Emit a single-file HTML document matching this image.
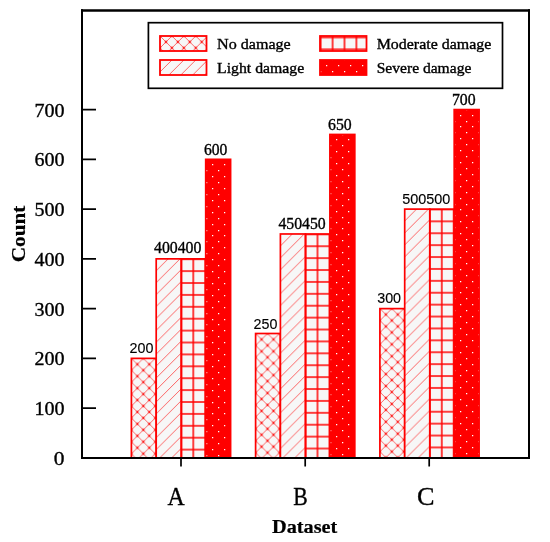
<!DOCTYPE html>
<html><head><meta charset="utf-8">
<style>
html,body{margin:0;padding:0;background:#fff;}
body{width:550px;height:542px;overflow:hidden;}
svg{display:block;}
text{fill:#000;}
.serif{font-family:"Liberation Serif",serif;}
.sans{font-family:"Liberation Sans",sans-serif;}
</style></head><body>
<svg width="550" height="542" viewBox="0 0 550 542">
<defs>
<pattern id="p1" patternUnits="userSpaceOnUse" x="131.40" y="358.38" width="11.92" height="11.92"><rect x="-1" y="-1" width="13.92" height="13.92" fill="#f7f7f7"/><path d="M-1,-1L12.92,12.92M-1,12.92L12.92,-1" stroke="#ff0000" stroke-width="0.8" fill="none" stroke-opacity="0.75"/><circle cx="0.00" cy="0.00" r="1.4" fill="#ff0000" fill-opacity="0.65"/><circle cx="11.92" cy="0.00" r="1.4" fill="#ff0000" fill-opacity="0.65"/><circle cx="0.00" cy="11.92" r="1.4" fill="#ff0000" fill-opacity="0.65"/><circle cx="11.92" cy="11.92" r="1.4" fill="#ff0000" fill-opacity="0.65"/><circle cx="5.96" cy="5.96" r="1.4" fill="#ff0000" fill-opacity="0.65"/></pattern>
<pattern id="p2" patternUnits="userSpaceOnUse" x="156.20" y="258.86" width="11.92" height="11.92"><rect x="-1" y="-1" width="13.92" height="13.92" fill="#f7f7f7"/><path d="M-1,12.92L12.92,-1M-1,1L1,-1M10.92,12.92L12.92,10.92" stroke="#ff0000" stroke-width="0.8" fill="none" stroke-opacity="0.75"/></pattern>
<pattern id="p3" patternUnits="userSpaceOnUse" x="181.40" y="259.21" width="11.9" height="11.9"><rect x="-1" y="-1" width="13.92" height="13.92" fill="#f7f7f7"/><path d="M0,0H11.9M0,11.9H11.9M0,0V11.9M11.9,0V11.9" stroke="#ff0000" stroke-width="1.5" fill="none"/></pattern>
<pattern id="p4" patternUnits="userSpaceOnUse" x="255.60" y="333.50" width="11.92" height="11.92"><rect x="-1" y="-1" width="13.92" height="13.92" fill="#f7f7f7"/><path d="M-1,-1L12.92,12.92M-1,12.92L12.92,-1" stroke="#ff0000" stroke-width="0.8" fill="none" stroke-opacity="0.75"/><circle cx="0.00" cy="0.00" r="1.4" fill="#ff0000" fill-opacity="0.65"/><circle cx="11.92" cy="0.00" r="1.4" fill="#ff0000" fill-opacity="0.65"/><circle cx="0.00" cy="11.92" r="1.4" fill="#ff0000" fill-opacity="0.65"/><circle cx="11.92" cy="11.92" r="1.4" fill="#ff0000" fill-opacity="0.65"/><circle cx="5.96" cy="5.96" r="1.4" fill="#ff0000" fill-opacity="0.65"/></pattern>
<pattern id="p5" patternUnits="userSpaceOnUse" x="280.40" y="233.98" width="11.92" height="11.92"><rect x="-1" y="-1" width="13.92" height="13.92" fill="#f7f7f7"/><path d="M-1,12.92L12.92,-1M-1,1L1,-1M10.92,12.92L12.92,10.92" stroke="#ff0000" stroke-width="0.8" fill="none" stroke-opacity="0.75"/></pattern>
<pattern id="p6" patternUnits="userSpaceOnUse" x="305.60" y="234.33" width="11.9" height="11.9"><rect x="-1" y="-1" width="13.92" height="13.92" fill="#f7f7f7"/><path d="M0,0H11.9M0,11.9H11.9M0,0V11.9M11.9,0V11.9" stroke="#ff0000" stroke-width="1.5" fill="none"/></pattern>
<pattern id="p7" patternUnits="userSpaceOnUse" x="379.90" y="308.62" width="11.92" height="11.92"><rect x="-1" y="-1" width="13.92" height="13.92" fill="#f7f7f7"/><path d="M-1,-1L12.92,12.92M-1,12.92L12.92,-1" stroke="#ff0000" stroke-width="0.8" fill="none" stroke-opacity="0.75"/><circle cx="0.00" cy="0.00" r="1.4" fill="#ff0000" fill-opacity="0.65"/><circle cx="11.92" cy="0.00" r="1.4" fill="#ff0000" fill-opacity="0.65"/><circle cx="0.00" cy="11.92" r="1.4" fill="#ff0000" fill-opacity="0.65"/><circle cx="11.92" cy="11.92" r="1.4" fill="#ff0000" fill-opacity="0.65"/><circle cx="5.96" cy="5.96" r="1.4" fill="#ff0000" fill-opacity="0.65"/></pattern>
<pattern id="p8" patternUnits="userSpaceOnUse" x="404.70" y="209.10" width="11.92" height="11.92"><rect x="-1" y="-1" width="13.92" height="13.92" fill="#f7f7f7"/><path d="M-1,12.92L12.92,-1M-1,1L1,-1M10.92,12.92L12.92,10.92" stroke="#ff0000" stroke-width="0.8" fill="none" stroke-opacity="0.75"/></pattern>
<pattern id="p9" patternUnits="userSpaceOnUse" x="429.90" y="209.45" width="11.9" height="11.9"><rect x="-1" y="-1" width="13.92" height="13.92" fill="#f7f7f7"/><path d="M0,0H11.9M0,11.9H11.9M0,0V11.9M11.9,0V11.9" stroke="#ff0000" stroke-width="1.5" fill="none"/></pattern>
<pattern id="p10" patternUnits="userSpaceOnUse" x="160.00" y="36.00" width="11.92" height="11.92"><rect x="-1" y="-1" width="13.92" height="13.92" fill="#f7f7f7"/><path d="M-1,-1L12.92,12.92M-1,12.92L12.92,-1" stroke="#ff0000" stroke-width="0.8" fill="none" stroke-opacity="0.75"/><circle cx="0.00" cy="0.00" r="1.4" fill="#ff0000" fill-opacity="0.65"/><circle cx="11.92" cy="0.00" r="1.4" fill="#ff0000" fill-opacity="0.65"/><circle cx="0.00" cy="11.92" r="1.4" fill="#ff0000" fill-opacity="0.65"/><circle cx="11.92" cy="11.92" r="1.4" fill="#ff0000" fill-opacity="0.65"/><circle cx="5.96" cy="5.96" r="1.4" fill="#ff0000" fill-opacity="0.65"/></pattern>
<pattern id="p11" patternUnits="userSpaceOnUse" x="160.00" y="60.00" width="11.92" height="11.92"><rect x="-1" y="-1" width="13.92" height="13.92" fill="#f7f7f7"/><path d="M-1,12.92L12.92,-1M-1,1L1,-1M10.92,12.92L12.92,10.92" stroke="#ff0000" stroke-width="0.8" fill="none" stroke-opacity="0.75"/></pattern>
<pattern id="p12" patternUnits="userSpaceOnUse" x="320.70" y="37.45" width="11.9" height="11.9"><rect x="-1" y="-1" width="13.92" height="13.92" fill="#f7f7f7"/><path d="M0,0H11.9M0,11.9H11.9M0,0V11.9M11.9,0V11.9" stroke="#ff0000" stroke-width="1.5" fill="none"/></pattern>
</defs>
<rect width="550" height="542" fill="#fff"/>
<rect x="131.40" y="358.38" width="24.80" height="99.52" fill="url(#p1)" stroke="#ff0000" stroke-width="1.7"/>
<rect x="156.20" y="258.86" width="25.10" height="199.04" fill="url(#p2)" stroke="#ff0000" stroke-width="1.7"/>
<rect x="181.30" y="258.86" width="24.40" height="199.04" fill="url(#p3)" stroke="#ff0000" stroke-width="1.7"/>
<rect x="205.70" y="159.34" width="24.90" height="298.56" fill="#ff0000"/>
<g fill="#fff"><rect x="212" y="164" width="1.25" height="1.25"/><rect x="224" y="164" width="1.25" height="1.25"/><rect x="212" y="176" width="1.25" height="1.25"/><rect x="224" y="176" width="1.25" height="1.25"/><rect x="212" y="188" width="1.25" height="1.25"/><rect x="224" y="188" width="1.25" height="1.25"/><rect x="212" y="200" width="1.25" height="1.25"/><rect x="224" y="200" width="1.25" height="1.25"/><rect x="212" y="212" width="1.25" height="1.25"/><rect x="224" y="212" width="1.25" height="1.25"/><rect x="212" y="224" width="1.25" height="1.25"/><rect x="224" y="224" width="1.25" height="1.25"/><rect x="212" y="235" width="1.25" height="1.25"/><rect x="224" y="235" width="1.25" height="1.25"/><rect x="212" y="247" width="1.25" height="1.25"/><rect x="224" y="247" width="1.25" height="1.25"/><rect x="212" y="259" width="1.25" height="1.25"/><rect x="224" y="259" width="1.25" height="1.25"/><rect x="212" y="271" width="1.25" height="1.25"/><rect x="224" y="271" width="1.25" height="1.25"/><rect x="212" y="283" width="1.25" height="1.25"/><rect x="224" y="283" width="1.25" height="1.25"/><rect x="212" y="295" width="1.25" height="1.25"/><rect x="224" y="295" width="1.25" height="1.25"/><rect x="212" y="307" width="1.25" height="1.25"/><rect x="224" y="307" width="1.25" height="1.25"/><rect x="212" y="319" width="1.25" height="1.25"/><rect x="224" y="319" width="1.25" height="1.25"/><rect x="212" y="330" width="1.25" height="1.25"/><rect x="224" y="330" width="1.25" height="1.25"/><rect x="212" y="342" width="1.25" height="1.25"/><rect x="224" y="342" width="1.25" height="1.25"/><rect x="212" y="354" width="1.25" height="1.25"/><rect x="224" y="354" width="1.25" height="1.25"/><rect x="212" y="366" width="1.25" height="1.25"/><rect x="224" y="366" width="1.25" height="1.25"/><rect x="212" y="378" width="1.25" height="1.25"/><rect x="224" y="378" width="1.25" height="1.25"/><rect x="212" y="390" width="1.25" height="1.25"/><rect x="224" y="390" width="1.25" height="1.25"/><rect x="212" y="402" width="1.25" height="1.25"/><rect x="224" y="402" width="1.25" height="1.25"/><rect x="212" y="413" width="1.25" height="1.25"/><rect x="224" y="413" width="1.25" height="1.25"/><rect x="212" y="425" width="1.25" height="1.25"/><rect x="224" y="425" width="1.25" height="1.25"/><rect x="212" y="437" width="1.25" height="1.25"/><rect x="224" y="437" width="1.25" height="1.25"/><rect x="212" y="449" width="1.25" height="1.25"/><rect x="224" y="449" width="1.25" height="1.25"/><rect x="206" y="170" width="1.25" height="1.25"/><rect x="218" y="170" width="1.25" height="1.25"/><rect x="230" y="170" width="1.25" height="1.25"/><rect x="206" y="182" width="1.25" height="1.25"/><rect x="218" y="182" width="1.25" height="1.25"/><rect x="230" y="182" width="1.25" height="1.25"/><rect x="206" y="194" width="1.25" height="1.25"/><rect x="218" y="194" width="1.25" height="1.25"/><rect x="230" y="194" width="1.25" height="1.25"/><rect x="206" y="206" width="1.25" height="1.25"/><rect x="218" y="206" width="1.25" height="1.25"/><rect x="230" y="206" width="1.25" height="1.25"/><rect x="206" y="218" width="1.25" height="1.25"/><rect x="218" y="218" width="1.25" height="1.25"/><rect x="230" y="218" width="1.25" height="1.25"/><rect x="206" y="230" width="1.25" height="1.25"/><rect x="218" y="230" width="1.25" height="1.25"/><rect x="230" y="230" width="1.25" height="1.25"/><rect x="206" y="241" width="1.25" height="1.25"/><rect x="218" y="241" width="1.25" height="1.25"/><rect x="230" y="241" width="1.25" height="1.25"/><rect x="206" y="253" width="1.25" height="1.25"/><rect x="218" y="253" width="1.25" height="1.25"/><rect x="230" y="253" width="1.25" height="1.25"/><rect x="206" y="265" width="1.25" height="1.25"/><rect x="218" y="265" width="1.25" height="1.25"/><rect x="230" y="265" width="1.25" height="1.25"/><rect x="206" y="277" width="1.25" height="1.25"/><rect x="218" y="277" width="1.25" height="1.25"/><rect x="230" y="277" width="1.25" height="1.25"/><rect x="206" y="289" width="1.25" height="1.25"/><rect x="218" y="289" width="1.25" height="1.25"/><rect x="230" y="289" width="1.25" height="1.25"/><rect x="206" y="301" width="1.25" height="1.25"/><rect x="218" y="301" width="1.25" height="1.25"/><rect x="230" y="301" width="1.25" height="1.25"/><rect x="206" y="313" width="1.25" height="1.25"/><rect x="218" y="313" width="1.25" height="1.25"/><rect x="230" y="313" width="1.25" height="1.25"/><rect x="206" y="324" width="1.25" height="1.25"/><rect x="218" y="324" width="1.25" height="1.25"/><rect x="230" y="324" width="1.25" height="1.25"/><rect x="206" y="336" width="1.25" height="1.25"/><rect x="218" y="336" width="1.25" height="1.25"/><rect x="230" y="336" width="1.25" height="1.25"/><rect x="206" y="348" width="1.25" height="1.25"/><rect x="218" y="348" width="1.25" height="1.25"/><rect x="230" y="348" width="1.25" height="1.25"/><rect x="206" y="360" width="1.25" height="1.25"/><rect x="218" y="360" width="1.25" height="1.25"/><rect x="230" y="360" width="1.25" height="1.25"/><rect x="206" y="372" width="1.25" height="1.25"/><rect x="218" y="372" width="1.25" height="1.25"/><rect x="230" y="372" width="1.25" height="1.25"/><rect x="206" y="384" width="1.25" height="1.25"/><rect x="218" y="384" width="1.25" height="1.25"/><rect x="230" y="384" width="1.25" height="1.25"/><rect x="206" y="396" width="1.25" height="1.25"/><rect x="218" y="396" width="1.25" height="1.25"/><rect x="230" y="396" width="1.25" height="1.25"/><rect x="206" y="407" width="1.25" height="1.25"/><rect x="218" y="407" width="1.25" height="1.25"/><rect x="230" y="407" width="1.25" height="1.25"/><rect x="206" y="419" width="1.25" height="1.25"/><rect x="218" y="419" width="1.25" height="1.25"/><rect x="230" y="419" width="1.25" height="1.25"/><rect x="206" y="431" width="1.25" height="1.25"/><rect x="218" y="431" width="1.25" height="1.25"/><rect x="230" y="431" width="1.25" height="1.25"/><rect x="206" y="443" width="1.25" height="1.25"/><rect x="218" y="443" width="1.25" height="1.25"/><rect x="230" y="443" width="1.25" height="1.25"/><rect x="206" y="455" width="1.25" height="1.25"/><rect x="218" y="455" width="1.25" height="1.25"/><rect x="230" y="455" width="1.25" height="1.25"/></g>
<rect x="205.70" y="159.34" width="24.90" height="298.56" fill="none" stroke="#ff0000" stroke-width="1.7"/>
<rect x="255.60" y="333.50" width="24.80" height="124.40" fill="url(#p4)" stroke="#ff0000" stroke-width="1.7"/>
<rect x="280.40" y="233.98" width="25.10" height="223.92" fill="url(#p5)" stroke="#ff0000" stroke-width="1.7"/>
<rect x="305.50" y="233.98" width="24.40" height="223.92" fill="url(#p6)" stroke="#ff0000" stroke-width="1.7"/>
<rect x="329.90" y="134.46" width="24.90" height="323.44" fill="#ff0000"/>
<g fill="#fff"><rect x="336" y="139" width="1.25" height="1.25"/><rect x="348" y="139" width="1.25" height="1.25"/><rect x="336" y="151" width="1.25" height="1.25"/><rect x="348" y="151" width="1.25" height="1.25"/><rect x="336" y="163" width="1.25" height="1.25"/><rect x="348" y="163" width="1.25" height="1.25"/><rect x="336" y="175" width="1.25" height="1.25"/><rect x="348" y="175" width="1.25" height="1.25"/><rect x="336" y="187" width="1.25" height="1.25"/><rect x="348" y="187" width="1.25" height="1.25"/><rect x="336" y="199" width="1.25" height="1.25"/><rect x="348" y="199" width="1.25" height="1.25"/><rect x="336" y="211" width="1.25" height="1.25"/><rect x="348" y="211" width="1.25" height="1.25"/><rect x="336" y="222" width="1.25" height="1.25"/><rect x="348" y="222" width="1.25" height="1.25"/><rect x="336" y="234" width="1.25" height="1.25"/><rect x="348" y="234" width="1.25" height="1.25"/><rect x="336" y="246" width="1.25" height="1.25"/><rect x="348" y="246" width="1.25" height="1.25"/><rect x="336" y="258" width="1.25" height="1.25"/><rect x="348" y="258" width="1.25" height="1.25"/><rect x="336" y="270" width="1.25" height="1.25"/><rect x="348" y="270" width="1.25" height="1.25"/><rect x="336" y="282" width="1.25" height="1.25"/><rect x="348" y="282" width="1.25" height="1.25"/><rect x="336" y="294" width="1.25" height="1.25"/><rect x="348" y="294" width="1.25" height="1.25"/><rect x="336" y="306" width="1.25" height="1.25"/><rect x="348" y="306" width="1.25" height="1.25"/><rect x="336" y="317" width="1.25" height="1.25"/><rect x="348" y="317" width="1.25" height="1.25"/><rect x="336" y="329" width="1.25" height="1.25"/><rect x="348" y="329" width="1.25" height="1.25"/><rect x="336" y="341" width="1.25" height="1.25"/><rect x="348" y="341" width="1.25" height="1.25"/><rect x="336" y="353" width="1.25" height="1.25"/><rect x="348" y="353" width="1.25" height="1.25"/><rect x="336" y="365" width="1.25" height="1.25"/><rect x="348" y="365" width="1.25" height="1.25"/><rect x="336" y="377" width="1.25" height="1.25"/><rect x="348" y="377" width="1.25" height="1.25"/><rect x="336" y="389" width="1.25" height="1.25"/><rect x="348" y="389" width="1.25" height="1.25"/><rect x="336" y="400" width="1.25" height="1.25"/><rect x="348" y="400" width="1.25" height="1.25"/><rect x="336" y="412" width="1.25" height="1.25"/><rect x="348" y="412" width="1.25" height="1.25"/><rect x="336" y="424" width="1.25" height="1.25"/><rect x="348" y="424" width="1.25" height="1.25"/><rect x="336" y="436" width="1.25" height="1.25"/><rect x="348" y="436" width="1.25" height="1.25"/><rect x="336" y="448" width="1.25" height="1.25"/><rect x="348" y="448" width="1.25" height="1.25"/><rect x="330" y="134" width="1.25" height="1.25"/><rect x="342" y="134" width="1.25" height="1.25"/><rect x="354" y="134" width="1.25" height="1.25"/><rect x="330" y="145" width="1.25" height="1.25"/><rect x="342" y="145" width="1.25" height="1.25"/><rect x="354" y="145" width="1.25" height="1.25"/><rect x="330" y="157" width="1.25" height="1.25"/><rect x="342" y="157" width="1.25" height="1.25"/><rect x="354" y="157" width="1.25" height="1.25"/><rect x="330" y="169" width="1.25" height="1.25"/><rect x="342" y="169" width="1.25" height="1.25"/><rect x="354" y="169" width="1.25" height="1.25"/><rect x="330" y="181" width="1.25" height="1.25"/><rect x="342" y="181" width="1.25" height="1.25"/><rect x="354" y="181" width="1.25" height="1.25"/><rect x="330" y="193" width="1.25" height="1.25"/><rect x="342" y="193" width="1.25" height="1.25"/><rect x="354" y="193" width="1.25" height="1.25"/><rect x="330" y="205" width="1.25" height="1.25"/><rect x="342" y="205" width="1.25" height="1.25"/><rect x="354" y="205" width="1.25" height="1.25"/><rect x="330" y="217" width="1.25" height="1.25"/><rect x="342" y="217" width="1.25" height="1.25"/><rect x="354" y="217" width="1.25" height="1.25"/><rect x="330" y="228" width="1.25" height="1.25"/><rect x="342" y="228" width="1.25" height="1.25"/><rect x="354" y="228" width="1.25" height="1.25"/><rect x="330" y="240" width="1.25" height="1.25"/><rect x="342" y="240" width="1.25" height="1.25"/><rect x="354" y="240" width="1.25" height="1.25"/><rect x="330" y="252" width="1.25" height="1.25"/><rect x="342" y="252" width="1.25" height="1.25"/><rect x="354" y="252" width="1.25" height="1.25"/><rect x="330" y="264" width="1.25" height="1.25"/><rect x="342" y="264" width="1.25" height="1.25"/><rect x="354" y="264" width="1.25" height="1.25"/><rect x="330" y="276" width="1.25" height="1.25"/><rect x="342" y="276" width="1.25" height="1.25"/><rect x="354" y="276" width="1.25" height="1.25"/><rect x="330" y="288" width="1.25" height="1.25"/><rect x="342" y="288" width="1.25" height="1.25"/><rect x="354" y="288" width="1.25" height="1.25"/><rect x="330" y="300" width="1.25" height="1.25"/><rect x="342" y="300" width="1.25" height="1.25"/><rect x="354" y="300" width="1.25" height="1.25"/><rect x="330" y="311" width="1.25" height="1.25"/><rect x="342" y="311" width="1.25" height="1.25"/><rect x="354" y="311" width="1.25" height="1.25"/><rect x="330" y="323" width="1.25" height="1.25"/><rect x="342" y="323" width="1.25" height="1.25"/><rect x="354" y="323" width="1.25" height="1.25"/><rect x="330" y="335" width="1.25" height="1.25"/><rect x="342" y="335" width="1.25" height="1.25"/><rect x="354" y="335" width="1.25" height="1.25"/><rect x="330" y="347" width="1.25" height="1.25"/><rect x="342" y="347" width="1.25" height="1.25"/><rect x="354" y="347" width="1.25" height="1.25"/><rect x="330" y="359" width="1.25" height="1.25"/><rect x="342" y="359" width="1.25" height="1.25"/><rect x="354" y="359" width="1.25" height="1.25"/><rect x="330" y="371" width="1.25" height="1.25"/><rect x="342" y="371" width="1.25" height="1.25"/><rect x="354" y="371" width="1.25" height="1.25"/><rect x="330" y="383" width="1.25" height="1.25"/><rect x="342" y="383" width="1.25" height="1.25"/><rect x="354" y="383" width="1.25" height="1.25"/><rect x="330" y="394" width="1.25" height="1.25"/><rect x="342" y="394" width="1.25" height="1.25"/><rect x="354" y="394" width="1.25" height="1.25"/><rect x="330" y="406" width="1.25" height="1.25"/><rect x="342" y="406" width="1.25" height="1.25"/><rect x="354" y="406" width="1.25" height="1.25"/><rect x="330" y="418" width="1.25" height="1.25"/><rect x="342" y="418" width="1.25" height="1.25"/><rect x="354" y="418" width="1.25" height="1.25"/><rect x="330" y="430" width="1.25" height="1.25"/><rect x="342" y="430" width="1.25" height="1.25"/><rect x="354" y="430" width="1.25" height="1.25"/><rect x="330" y="442" width="1.25" height="1.25"/><rect x="342" y="442" width="1.25" height="1.25"/><rect x="354" y="442" width="1.25" height="1.25"/><rect x="330" y="454" width="1.25" height="1.25"/><rect x="342" y="454" width="1.25" height="1.25"/><rect x="354" y="454" width="1.25" height="1.25"/></g>
<rect x="329.90" y="134.46" width="24.90" height="323.44" fill="none" stroke="#ff0000" stroke-width="1.7"/>
<rect x="379.90" y="308.62" width="24.80" height="149.28" fill="url(#p7)" stroke="#ff0000" stroke-width="1.7"/>
<rect x="404.70" y="209.10" width="25.10" height="248.80" fill="url(#p8)" stroke="#ff0000" stroke-width="1.7"/>
<rect x="429.80" y="209.10" width="24.40" height="248.80" fill="url(#p9)" stroke="#ff0000" stroke-width="1.7"/>
<rect x="454.20" y="109.58" width="24.90" height="348.32" fill="#ff0000"/>
<g fill="#fff"><rect x="460" y="115" width="1.25" height="1.25"/><rect x="472" y="115" width="1.25" height="1.25"/><rect x="460" y="126" width="1.25" height="1.25"/><rect x="472" y="126" width="1.25" height="1.25"/><rect x="460" y="138" width="1.25" height="1.25"/><rect x="472" y="138" width="1.25" height="1.25"/><rect x="460" y="150" width="1.25" height="1.25"/><rect x="472" y="150" width="1.25" height="1.25"/><rect x="460" y="162" width="1.25" height="1.25"/><rect x="472" y="162" width="1.25" height="1.25"/><rect x="460" y="174" width="1.25" height="1.25"/><rect x="472" y="174" width="1.25" height="1.25"/><rect x="460" y="186" width="1.25" height="1.25"/><rect x="472" y="186" width="1.25" height="1.25"/><rect x="460" y="198" width="1.25" height="1.25"/><rect x="472" y="198" width="1.25" height="1.25"/><rect x="460" y="209" width="1.25" height="1.25"/><rect x="472" y="209" width="1.25" height="1.25"/><rect x="460" y="221" width="1.25" height="1.25"/><rect x="472" y="221" width="1.25" height="1.25"/><rect x="460" y="233" width="1.25" height="1.25"/><rect x="472" y="233" width="1.25" height="1.25"/><rect x="460" y="245" width="1.25" height="1.25"/><rect x="472" y="245" width="1.25" height="1.25"/><rect x="460" y="257" width="1.25" height="1.25"/><rect x="472" y="257" width="1.25" height="1.25"/><rect x="460" y="269" width="1.25" height="1.25"/><rect x="472" y="269" width="1.25" height="1.25"/><rect x="460" y="281" width="1.25" height="1.25"/><rect x="472" y="281" width="1.25" height="1.25"/><rect x="460" y="292" width="1.25" height="1.25"/><rect x="472" y="292" width="1.25" height="1.25"/><rect x="460" y="304" width="1.25" height="1.25"/><rect x="472" y="304" width="1.25" height="1.25"/><rect x="460" y="316" width="1.25" height="1.25"/><rect x="472" y="316" width="1.25" height="1.25"/><rect x="460" y="328" width="1.25" height="1.25"/><rect x="472" y="328" width="1.25" height="1.25"/><rect x="460" y="340" width="1.25" height="1.25"/><rect x="472" y="340" width="1.25" height="1.25"/><rect x="460" y="352" width="1.25" height="1.25"/><rect x="472" y="352" width="1.25" height="1.25"/><rect x="460" y="364" width="1.25" height="1.25"/><rect x="472" y="364" width="1.25" height="1.25"/><rect x="460" y="375" width="1.25" height="1.25"/><rect x="472" y="375" width="1.25" height="1.25"/><rect x="460" y="387" width="1.25" height="1.25"/><rect x="472" y="387" width="1.25" height="1.25"/><rect x="460" y="399" width="1.25" height="1.25"/><rect x="472" y="399" width="1.25" height="1.25"/><rect x="460" y="411" width="1.25" height="1.25"/><rect x="472" y="411" width="1.25" height="1.25"/><rect x="460" y="423" width="1.25" height="1.25"/><rect x="472" y="423" width="1.25" height="1.25"/><rect x="460" y="435" width="1.25" height="1.25"/><rect x="472" y="435" width="1.25" height="1.25"/><rect x="460" y="447" width="1.25" height="1.25"/><rect x="472" y="447" width="1.25" height="1.25"/><rect x="454" y="109" width="1.25" height="1.25"/><rect x="466" y="109" width="1.25" height="1.25"/><rect x="478" y="109" width="1.25" height="1.25"/><rect x="454" y="121" width="1.25" height="1.25"/><rect x="466" y="121" width="1.25" height="1.25"/><rect x="478" y="121" width="1.25" height="1.25"/><rect x="454" y="132" width="1.25" height="1.25"/><rect x="466" y="132" width="1.25" height="1.25"/><rect x="478" y="132" width="1.25" height="1.25"/><rect x="454" y="144" width="1.25" height="1.25"/><rect x="466" y="144" width="1.25" height="1.25"/><rect x="478" y="144" width="1.25" height="1.25"/><rect x="454" y="156" width="1.25" height="1.25"/><rect x="466" y="156" width="1.25" height="1.25"/><rect x="478" y="156" width="1.25" height="1.25"/><rect x="454" y="168" width="1.25" height="1.25"/><rect x="466" y="168" width="1.25" height="1.25"/><rect x="478" y="168" width="1.25" height="1.25"/><rect x="454" y="180" width="1.25" height="1.25"/><rect x="466" y="180" width="1.25" height="1.25"/><rect x="478" y="180" width="1.25" height="1.25"/><rect x="454" y="192" width="1.25" height="1.25"/><rect x="466" y="192" width="1.25" height="1.25"/><rect x="478" y="192" width="1.25" height="1.25"/><rect x="454" y="204" width="1.25" height="1.25"/><rect x="466" y="204" width="1.25" height="1.25"/><rect x="478" y="204" width="1.25" height="1.25"/><rect x="454" y="215" width="1.25" height="1.25"/><rect x="466" y="215" width="1.25" height="1.25"/><rect x="478" y="215" width="1.25" height="1.25"/><rect x="454" y="227" width="1.25" height="1.25"/><rect x="466" y="227" width="1.25" height="1.25"/><rect x="478" y="227" width="1.25" height="1.25"/><rect x="454" y="239" width="1.25" height="1.25"/><rect x="466" y="239" width="1.25" height="1.25"/><rect x="478" y="239" width="1.25" height="1.25"/><rect x="454" y="251" width="1.25" height="1.25"/><rect x="466" y="251" width="1.25" height="1.25"/><rect x="478" y="251" width="1.25" height="1.25"/><rect x="454" y="263" width="1.25" height="1.25"/><rect x="466" y="263" width="1.25" height="1.25"/><rect x="478" y="263" width="1.25" height="1.25"/><rect x="454" y="275" width="1.25" height="1.25"/><rect x="466" y="275" width="1.25" height="1.25"/><rect x="478" y="275" width="1.25" height="1.25"/><rect x="454" y="287" width="1.25" height="1.25"/><rect x="466" y="287" width="1.25" height="1.25"/><rect x="478" y="287" width="1.25" height="1.25"/><rect x="454" y="298" width="1.25" height="1.25"/><rect x="466" y="298" width="1.25" height="1.25"/><rect x="478" y="298" width="1.25" height="1.25"/><rect x="454" y="310" width="1.25" height="1.25"/><rect x="466" y="310" width="1.25" height="1.25"/><rect x="478" y="310" width="1.25" height="1.25"/><rect x="454" y="322" width="1.25" height="1.25"/><rect x="466" y="322" width="1.25" height="1.25"/><rect x="478" y="322" width="1.25" height="1.25"/><rect x="454" y="334" width="1.25" height="1.25"/><rect x="466" y="334" width="1.25" height="1.25"/><rect x="478" y="334" width="1.25" height="1.25"/><rect x="454" y="346" width="1.25" height="1.25"/><rect x="466" y="346" width="1.25" height="1.25"/><rect x="478" y="346" width="1.25" height="1.25"/><rect x="454" y="358" width="1.25" height="1.25"/><rect x="466" y="358" width="1.25" height="1.25"/><rect x="478" y="358" width="1.25" height="1.25"/><rect x="454" y="370" width="1.25" height="1.25"/><rect x="466" y="370" width="1.25" height="1.25"/><rect x="478" y="370" width="1.25" height="1.25"/><rect x="454" y="381" width="1.25" height="1.25"/><rect x="466" y="381" width="1.25" height="1.25"/><rect x="478" y="381" width="1.25" height="1.25"/><rect x="454" y="393" width="1.25" height="1.25"/><rect x="466" y="393" width="1.25" height="1.25"/><rect x="478" y="393" width="1.25" height="1.25"/><rect x="454" y="405" width="1.25" height="1.25"/><rect x="466" y="405" width="1.25" height="1.25"/><rect x="478" y="405" width="1.25" height="1.25"/><rect x="454" y="417" width="1.25" height="1.25"/><rect x="466" y="417" width="1.25" height="1.25"/><rect x="478" y="417" width="1.25" height="1.25"/><rect x="454" y="429" width="1.25" height="1.25"/><rect x="466" y="429" width="1.25" height="1.25"/><rect x="478" y="429" width="1.25" height="1.25"/><rect x="454" y="441" width="1.25" height="1.25"/><rect x="466" y="441" width="1.25" height="1.25"/><rect x="478" y="441" width="1.25" height="1.25"/><rect x="454" y="453" width="1.25" height="1.25"/><rect x="466" y="453" width="1.25" height="1.25"/><rect x="478" y="453" width="1.25" height="1.25"/></g>
<rect x="454.20" y="109.58" width="24.90" height="348.32" fill="none" stroke="#ff0000" stroke-width="1.7"/>
<path d="M82,9.2V459M529,9.2V459M81,458H530" stroke="#000" stroke-width="2" fill="none"/>
<path d="M81,10.45H530" stroke="#000" stroke-width="2.5" fill="none"/>
<g stroke="#000" stroke-width="1.7">
<path d="M82,457.9H96M82,408.14H96M82,358.38H96M82,308.62H96M82,258.86H96M82,209.1H96M82,159.34H96M82,109.58H96"/>
<path d="M181,457.9V466.6M305.2,457.9V466.6M429.2,457.9V466.6"/>
</g>
<text class="serif" font-size="19.7" textLength="10.73" lengthAdjust="spacingAndGlyphs" stroke="#000" stroke-width="0.35" text-anchor="end" x="64.6" y="464.9">0</text>
<text class="serif" font-size="19.7" textLength="30.12" lengthAdjust="spacingAndGlyphs" stroke="#000" stroke-width="0.35" text-anchor="end" x="64.6" y="415.1">100</text>
<text class="serif" font-size="19.7" textLength="30.12" lengthAdjust="spacingAndGlyphs" stroke="#000" stroke-width="0.35" text-anchor="end" x="64.6" y="365.4">200</text>
<text class="serif" font-size="19.7" textLength="30.12" lengthAdjust="spacingAndGlyphs" stroke="#000" stroke-width="0.35" text-anchor="end" x="64.6" y="315.6">300</text>
<text class="serif" font-size="19.7" textLength="30.12" lengthAdjust="spacingAndGlyphs" stroke="#000" stroke-width="0.35" text-anchor="end" x="64.6" y="265.9">400</text>
<text class="serif" font-size="19.7" textLength="30.12" lengthAdjust="spacingAndGlyphs" stroke="#000" stroke-width="0.35" text-anchor="end" x="64.6" y="216.1">500</text>
<text class="serif" font-size="19.7" textLength="30.12" lengthAdjust="spacingAndGlyphs" stroke="#000" stroke-width="0.35" text-anchor="end" x="64.6" y="166.3">600</text>
<text class="serif" font-size="19.7" textLength="30.12" lengthAdjust="spacingAndGlyphs" stroke="#000" stroke-width="0.35" text-anchor="end" x="64.6" y="116.6">700</text>
<text class="serif" font-size="25" textLength="17.16" lengthAdjust="spacingAndGlyphs" stroke="#000" stroke-width="0.35" x="167.6" y="504.9">A</text>
<text class="serif" font-size="25" textLength="14.52" lengthAdjust="spacingAndGlyphs" stroke="#000" stroke-width="0.35" x="293.2" y="504.9">B</text>
<text class="serif" font-size="25" textLength="17.52" lengthAdjust="spacingAndGlyphs" stroke="#000" stroke-width="0.35" x="416.9" y="505.0">C</text>
<text class="serif" font-size="19.2" font-weight="bold" textLength="65.27" lengthAdjust="spacingAndGlyphs" stroke="#000" stroke-width="0.2" x="272.0" y="533.2">Dataset</text>
<text class="serif" font-size="19.3" font-weight="bold" textLength="56.58" lengthAdjust="spacingAndGlyphs" stroke="#000" stroke-width="0.2" text-anchor="middle" transform="translate(24.5,234.0) rotate(-90)">Count</text>
<text class="sans" font-size="15.3" textLength="23.85" lengthAdjust="spacingAndGlyphs" stroke="#000" stroke-width="0.15" x="129.5" y="353.3">200</text>
<text class="sans" font-size="15.3" textLength="23.85" lengthAdjust="spacingAndGlyphs" stroke="#000" stroke-width="0.15" x="253.5" y="328.5">250</text>
<text class="sans" font-size="15.3" textLength="23.85" lengthAdjust="spacingAndGlyphs" stroke="#000" stroke-width="0.15" x="377.2" y="303.3">300</text>
<text class="sans" font-size="15.3" textLength="48.14" lengthAdjust="spacingAndGlyphs" stroke="#000" stroke-width="0.15" x="402.2" y="204.3">500500</text>
<text class="serif" font-size="16" textLength="47.42" lengthAdjust="spacingAndGlyphs" stroke="#000" stroke-width="0.35" x="154.0" y="253.4">400400</text>
<text class="serif" font-size="16" textLength="47.28" lengthAdjust="spacingAndGlyphs" stroke="#000" stroke-width="0.35" x="278.4" y="229.1">450450</text>
<text class="serif" font-size="16" textLength="23.40" lengthAdjust="spacingAndGlyphs" stroke="#000" stroke-width="0.35" x="203.9" y="154.5">600</text>
<text class="serif" font-size="16" textLength="23.64" lengthAdjust="spacingAndGlyphs" stroke="#000" stroke-width="0.35" x="328.1" y="129.5">650</text>
<text class="serif" font-size="16" textLength="23.64" lengthAdjust="spacingAndGlyphs" stroke="#000" stroke-width="0.35" x="451.9" y="104.7">700</text>
<rect x="148.4" y="22.7" width="354.1" height="65.6" fill="#fff" stroke="#000" stroke-width="1.7"/>
<rect x="160" y="36" width="46.5" height="15" fill="url(#p10)" stroke="#ff0000" stroke-width="1.8"/>
<rect x="160" y="60" width="46.5" height="15" fill="url(#p11)" stroke="#ff0000" stroke-width="1.8"/>
<rect x="320" y="36" width="46.5" height="15" fill="url(#p12)" stroke="#ff0000" stroke-width="1.8"/>
<rect x="320" y="60" width="46.5" height="15" fill="#ff0000"/>
<g fill="#fff"><rect x="326" y="65" width="1.25" height="1.25"/><rect x="338" y="65" width="1.25" height="1.25"/><rect x="350" y="65" width="1.25" height="1.25"/><rect x="362" y="65" width="1.25" height="1.25"/><rect x="320" y="59" width="1.25" height="1.25"/><rect x="332" y="59" width="1.25" height="1.25"/><rect x="344" y="59" width="1.25" height="1.25"/><rect x="356" y="59" width="1.25" height="1.25"/><rect x="320" y="71" width="1.25" height="1.25"/><rect x="332" y="71" width="1.25" height="1.25"/><rect x="344" y="71" width="1.25" height="1.25"/><rect x="356" y="71" width="1.25" height="1.25"/></g>
<rect x="320" y="60" width="46.5" height="15" fill="none" stroke="#ff0000" stroke-width="1.8"/>
<text class="serif" font-size="14.8" textLength="73.76" lengthAdjust="spacingAndGlyphs" stroke="#000" stroke-width="0.35" x="217.0" y="48.6">No damage</text>
<text class="serif" font-size="14.8" textLength="87.26" lengthAdjust="spacingAndGlyphs" stroke="#000" stroke-width="0.35" x="217.0" y="72.9">Light damage</text>
<text class="serif" font-size="14.8" textLength="114.60" lengthAdjust="spacingAndGlyphs" stroke="#000" stroke-width="0.35" x="376.7" y="48.8">Moderate damage</text>
<text class="serif" font-size="14.8" textLength="94.65" lengthAdjust="spacingAndGlyphs" stroke="#000" stroke-width="0.35" x="376.7" y="73.2">Severe damage</text>
</svg>
</body></html>
